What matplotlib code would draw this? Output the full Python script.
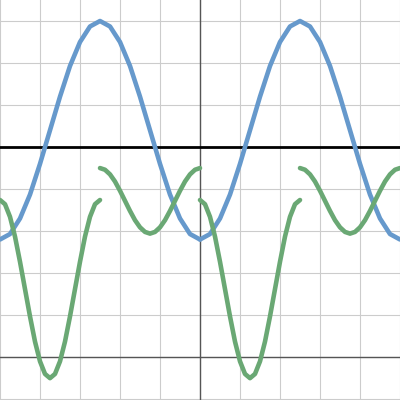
import matplotlib.pyplot as plt

# one period of each curve
blue_x = [0, 0.25, 0.5, 0.75, 1, 1.25, 1.5, 1.75, 2, 2.25, 2.5,
          2.75, 3, 3.25, 3.5, 3.75, 4, 4.25, 4.5, 4.75, 5]
blue_y = [2.80, 2.93, 3.30, 3.87, 4.60, 5.40, 6.20, 6.93, 7.50, 7.87, 8.00,
          7.87, 7.50, 6.93, 6.20, 5.40, 4.60, 3.87, 3.30, 2.93, 2.80]

seg_x = [0, 0.125, 0.25, 0.375, 0.5, 0.625, 0.75, 0.875, 1.0, 1.125, 1.25,
         1.375, 1.5, 1.625, 1.75, 1.875, 2.0, 2.125, 2.25, 2.375, 2.5]
green_a = [3.74, 3.64, 3.34, 2.87, 2.27, 1.62, 0.97, 0.37, -0.10, -0.40, -0.50,
           -0.40, -0.10, 0.37, 0.97, 1.62, 2.27, 2.87, 3.34, 3.64, 3.74]
green_b = [4.50, 4.46, 4.35, 4.18, 3.96, 3.72, 3.48, 3.26, 3.09, 2.98, 2.94,
           2.98, 3.09, 3.26, 3.48, 3.72, 3.96, 4.18, 4.35, 4.46, 4.50]

period_starts = [-5, 0]
hline_y = 5

fig = plt.figure(figsize=(4, 4), dpi=100)
ax = fig.add_axes([0, 0, 1, 1])
ax.set_xlim(-5, 5)
ax.set_ylim(-1.02, 8.5)

for v in range(-5, 6):
    ax.axvline(v, color="#cccccc", lw=0.8, zorder=0)
for v in range(-1, 9):
    ax.axhline(v, color="#cccccc", lw=0.8, zorder=0)
ax.axvline(0, color="#555555", lw=1, zorder=1)
ax.axhline(0, color="#555555", lw=1, zorder=1)

ax.axhline(hline_y, color="black", lw=2, zorder=2)

style = dict(lw=3.3, solid_capstyle="round", solid_joinstyle="round", zorder=3)
for s in period_starts:
    ax.plot([s + x for x in blue_x], blue_y, color="#6699cc", **style)
    ax.plot([s + x for x in seg_x], green_a, color="#6aa874", **style)
    ax.plot([s + 2.5 + x for x in seg_x], green_b, color="#6aa874", **style)

ax.set_xticks([])
ax.set_yticks([])
for sp in ax.spines.values():
    sp.set_visible(False)

fig.savefig("out.png", dpi=100)
